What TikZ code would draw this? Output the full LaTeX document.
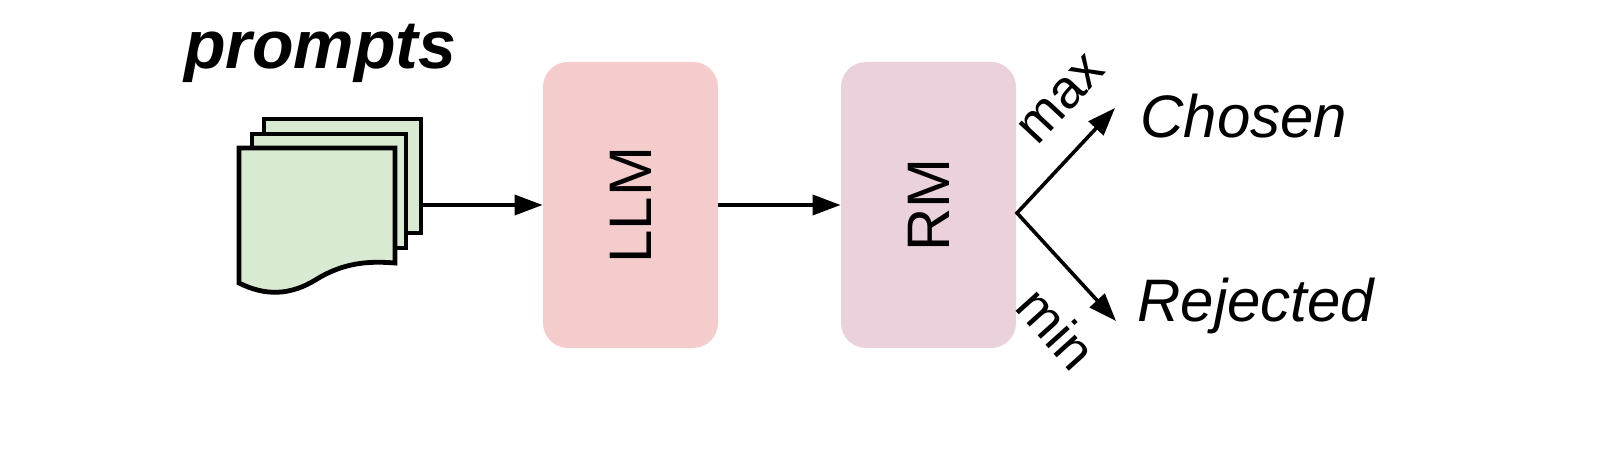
\documentclass[tikz,border=0pt]{standalone}
\usepackage{fontspec}
\setmainfont{Liberation Sans}
\usetikzlibrary{arrows.meta,calc}
\definecolor{docfill}{HTML}{D9EAD3}
\definecolor{llmfill}{HTML}{F4CCCC}
\definecolor{rmfill}{HTML}{EAD1DC}
\begin{document}
\begin{tikzpicture}[x=0.5pt,y=-0.5pt,
  page/.style={draw=black, line width=2.4pt, fill=docfill, inner sep=0pt, outer sep=0pt},
  box/.style={rounded corners=12.5pt, inner sep=0pt, minimum width=87.5pt, minimum height=143pt, font=\fontsize{30}{36}\selectfont},
  arr/.style={line width=1.8pt, -{Triangle[length=14pt,width=10pt]}},
  twoarr/.style={line width=1.8pt, {Triangle[length=14pt,width=10pt]}-{Triangle[length=14pt,width=10pt]}},
  outlabel/.style={font=\fontsize{30}{36}\selectfont\itshape, inner sep=0pt, anchor=base west},
  sidelabel/.style={font=\fontsize{27}{32}\selectfont, inner sep=0pt}]
\useasboundingbox (0,0) rectangle (1616,460);
% document stack
\node[page, minimum width=78.5pt, minimum height=57pt] (back) at (342.5,176) {};
\node[page, minimum width=77pt, minimum height=57pt] (middle) at (329,191) {};
\draw[page] (239,148) -- (395,148) -- (395,263)
  .. controls (370,261) and (345,262) .. (317,279)
  .. controls (290,296) and (265,296) .. (239,283) -- cycle;
\node[font=\fontsize{34}{40}\selectfont\bfseries\itshape, inner sep=0pt, anchor=base west] (prompts) at (184,69) {prompts};
% model boxes
\node[box, fill=llmfill] (llm) at (630.5,205) {\rotatebox{90}{LLM}};
\node[box, fill=rmfill] (rm) at (928.5,205) {\rotatebox{90}{RM}};
% connectors
\draw[arr] (back.east |- llm.west) -- (llm.west);
\draw[arr] (llm.east) -- (rm.west);
\coordinate (fork) at (1017,213);
\coordinate (cend) at (1115,108);
\coordinate (rend) at (1116,321);
\draw[twoarr] (cend) -- (fork) -- (rend);
% labels
\node[outlabel] (chosen) at (1140,137) {Chosen};
\node[outlabel] (rejected) at (1137,321) {Rejected};
\node[sidelabel, rotate=47] (max) at (1062,99) {max};
\node[sidelabel, rotate=-48] (min) at (1057,328) {min};
\end{tikzpicture}
\end{document}
